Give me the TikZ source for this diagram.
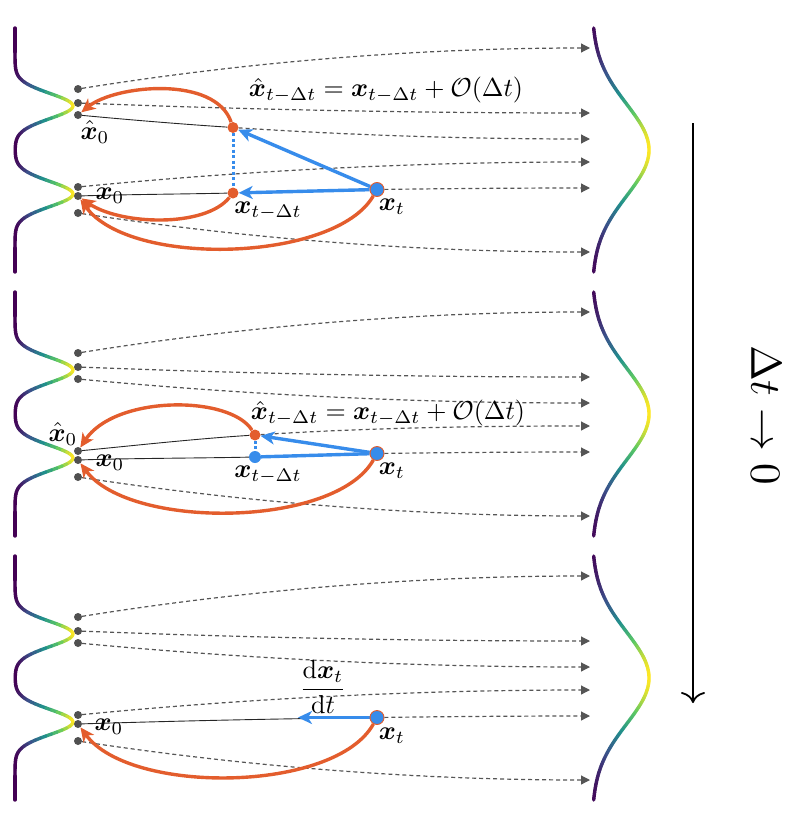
\documentclass[tikz,border=0pt]{standalone}
\usepackage{bm}
\usetikzlibrary{arrows.meta}
\definecolor{orng}{RGB}{227,93,45}
\definecolor{blu}{RGB}{55,140,235}
\definecolor{dotgray}{RGB}{80,80,80}
\definecolor{trajgray}{RGB}{85,85,85}
\definecolor{vir0}{RGB}{68,1,84}
\definecolor{vir1}{RGB}{59,82,139}
\definecolor{vir2}{RGB}{33,145,140}
\definecolor{vir3}{RGB}{94,201,98}
\definecolor{vir4}{RGB}{253,231,37}
\newcommand\setvir[1]{%
  \pgfmathsetmacro\virv{min(max(#1,0),0.9999)*4}%
  \pgfmathtruncatemacro\viri{\virv}%
  \pgfmathsetmacro\virp{(\virv-\viri)*100}%
  \ifcase\viri \colorlet{vc}{vir1!\virp!vir0}%
  \or \colorlet{vc}{vir2!\virp!vir1}%
  \or \colorlet{vc}{vir3!\virp!vir2}%
  \or \colorlet{vc}{vir4!\virp!vir3}%
  \fi}
\pgfmathdeclarefunction{lden}{1}{\pgfmathparse{exp(-min(((#1-106)/12.5)*((#1-106)/12.5)/2,15))+exp(-min(((#1-194)/12.5)*((#1-194)/12.5)/2,15))}}
\pgfmathdeclarefunction{rden}{1}{\pgfmathparse{exp(-min(((#1-150)/46)*((#1-150)/46)/2,15))}}
\pgfdeclarelayer{bg}
\pgfsetlayers{bg,main}
\tikzset{
  gdot/.style={circle, fill=dotgray, inner sep=0pt, minimum size=8pt},
  odot/.style={circle, fill=orng, inner sep=0pt, minimum size=11pt},
  bdot/.style={circle, fill=blu, inner sep=0pt, minimum size=12pt},
  xtdot/.style={circle, fill=blu, draw=orng, line width=0.9pt, inner sep=0pt, minimum size=14pt},
  traj/.style={draw=trajgray, line width=1.2pt, dash pattern=on 4pt off 3pt, -{Triangle[length=9pt,width=9pt]}},
  solidtraj/.style={draw=black!85, line width=0.9pt},
  orarc/.style={draw=orng, line width=3.4pt, -{Stealth[length=14pt,width=13pt,inset=4pt]}},
  barrow/.style={draw=blu, line width=3.4pt, -{Stealth[length=14pt,width=13pt,inset=4pt]}},
  bline/.style={draw=blu, line width=3.4pt},
  bdotted/.style={draw=blu, line width=3pt, dash pattern=on 3pt off 2.5pt},
  lbl/.style={inner sep=0pt, scale=2.6},
  dens/.style={line width=3.4pt, line cap=round},
}
\begin{document}
\begin{tikzpicture}[x=1pt,y=-1pt]
\useasboundingbox (0,0) rectangle (800,838);

% sample dots and trajectory ends
\foreach \p/\o in {t/0,m/264,b/528} {
  \foreach \i/\ys/\ye in {1/89/48,2/103/113,3/115/139,4/187/162,5/196/188,6/213/252} {
    \node[gdot] (\p d\i) at (78,\ys+\o) {};
    \coordinate (\p e\i) at (590,\ye+\o);
  }
}

% special points
\node[odot] (txh) at (233,127.5) {};
\node[odot] (txm) at (233,193) {};
\node[xtdot] (txt) at (377,189.5) {};
\node[odot] (mxh) at (255,435) {};
\node[bdot] (mxm) at (255,457) {};
\node[xtdot] (mxt) at (377,453.5) {};
\node[xtdot] (bxt) at (377,717.5) {};
\coordinate (btip) at (298,717.5);

% labels
\node[lbl] (teq) at (386,90) {$\hat{\bm x}_{t-\Delta t} = \bm x_{t-\Delta t} + \mathcal{O}(\Delta t)$};
\node[lbl] (tlx0h) at (95,132) {$\hat{\bm x}_0$};
\node[lbl] (tlx0) at (110,196) {$\bm x_0$};
\node[lbl] (tlxm) at (268,211) {$\bm x_{t-\Delta t}$};
\node[lbl] (tlxt) at (392,207) {$\bm x_t$};
\node[lbl] (meq) at (388,413) {$\hat{\bm x}_{t-\Delta t} = \bm x_{t-\Delta t} + \mathcal{O}(\Delta t)$};
\node[lbl] (mlx0h) at (63,434) {$\hat{\bm x}_0$};
\node[lbl] (mlx0) at (110,463) {$\bm x_0$};
\node[lbl] (mlxm) at (268,475) {$\bm x_{t-\Delta t}$};
\node[lbl] (mlxt) at (392,471) {$\bm x_t$};
\node[lbl] (blx0) at (109,727) {$\bm x_0$};
\node[lbl] (blxt) at (392,736) {$\bm x_t$};
\node[lbl] (bfrac) at (323,687) {$\displaystyle\frac{\mathrm{d}\bm x_t}{\mathrm{d}t}$};
\node[rotate=-90, scale=4.3] (dlabel) at (766,415) {$\Delta t \rightarrow 0$};

% big arrow
\coordinate (atop) at (693,123);
\coordinate (abot) at (693,703);
\draw[line width=1.8pt, -{Computer Modern Rightarrow[length=11pt,width=24pt]}] (atop) -- (abot);

\begin{pgfonlayer}{bg}
% density curves
\foreach \o in {0,264,528} {
  \foreach \k in {0,...,121} {
    \pgfmathsetmacro\ya{28+2*\k}
    \pgfmathsetmacro\yb{30+2*\k}
    \pgfmathsetmacro\la{lden(\ya)}
    \pgfmathsetmacro\lb{lden(\yb)}
    \pgfmathsetmacro\lmid{lden(\ya+1)}
    \setvir{\lmid}
    \draw[dens, vc] (15+58*\la, \ya+\o) -- (15+58*\lb, \yb+\o);
    \pgfmathsetmacro\ra{rden(\ya)}
    \pgfmathsetmacro\rb{rden(\yb)}
    \pgfmathsetmacro\rmid{rden(\ya+1)}
    \setvir{\rmid}
    \draw[dens, vc] (592+57*\ra, \ya+\o) -- (592+57*\rb, \yb+\o);
  }
}
% full trajectories
\foreach \p/\lst in {t/{1,2,4,6}, m/{1,2,3,6}, b/{1,2,3,4,6}} {
  \foreach \i in \lst {
    \pgfmathsetmacro\cy{{-27.33,6.67,16,-16.67,-5.33,26}[\i-1]}
    \draw[traj] (\p d\i) .. controls +(170.67,\cy) and +(-170.67,0) .. (\p e\i);
  }
}
% broken trajectories
\draw[solidtraj] (td3) .. controls +(51.67,4.84) and +(-51.67,-3.38) .. (txh);
\draw[traj] (txh) .. controls +(119,7.78) and +(-119,0) .. (te3);
\draw[solidtraj] (td5) .. controls +(51.67,-1.61) and +(-51.67,1.13) .. (txm);
\draw[traj] (txt) .. controls +(71,-0.92) and +(-71,0) .. (te5);
\draw[solidtraj] (md4) .. controls +(59,-5.76) and +(-59,3.77) .. (mxh);
\draw[traj] (mxh) .. controls +(111.67,-7.14) and +(-111.67,0) .. (me4);
\draw[solidtraj] (md5) .. controls +(59,-1.84) and +(-59,1.21) .. (mxm);
\draw[traj] (mxt) .. controls +(71,-0.92) and +(-71,0) .. (me5);
\draw[solidtraj] (bd5) .. controls +(99.67,-3.11) and +(-99.67,1.30) .. (bxt);
\draw[traj] (bxt) .. controls +(71,-0.92) and +(-71,0) .. (be5);
% orange arcs
\draw[orarc] (txh) .. controls (215,75) and (115,85) .. (td3);
\draw[orarc] (txm) .. controls (205,228) and (120,225) .. (td5);
\draw[orarc] (txt) .. controls (335,262) and (130,268) .. (td5);
\draw[orarc] (mxh) .. controls (230,395) and (115,395) .. (md4);
\draw[orarc] (mxt) .. controls (335,528) and (130,530) .. (md5);
\draw[orarc] (bxt) .. controls (335,793) and (130,795) .. (bd5);
% blue
\draw[bdotted] (txh) -- (txm);
\draw[barrow] (txt) -- (txh);
\draw[barrow] (txt) -- (txm);
\draw[bdotted] (mxh) -- (mxm);
\draw[barrow] (mxt) -- (mxh);
\draw[bline] (mxt) -- (mxm);
\draw[barrow] (bxt) -- (btip);
\end{pgfonlayer}
\end{tikzpicture}
\end{document}
